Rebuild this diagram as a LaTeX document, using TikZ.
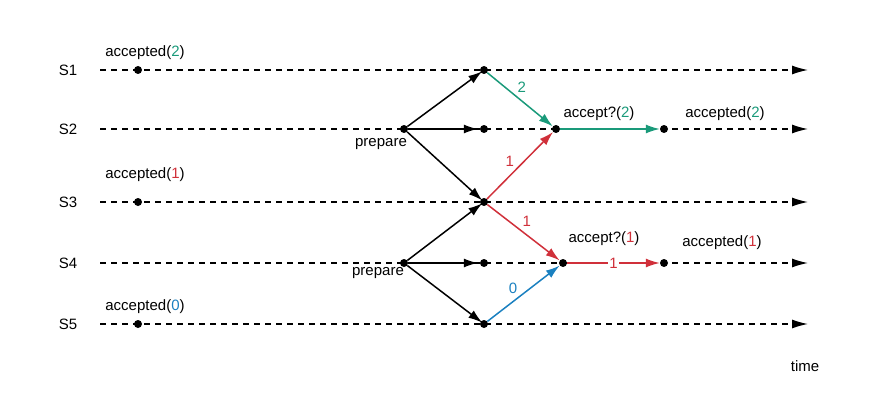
\documentclass[tikz,border=0pt]{standalone}
\usepackage{fontspec}
\setmainfont{Liberation Sans}
\usetikzlibrary{arrows.meta}
\definecolor{gr}{HTML}{1A9A7A}
\definecolor{rd}{HTML}{D0303A}
\definecolor{bl}{HTML}{1A80C0}
\begin{document}
\begin{tikzpicture}[x=1pt,y=-1pt,
  dot/.style={circle,fill=black,inner sep=0pt,minimum size=8pt},
  tl/.style={dashed,dash pattern=on 6pt off 5pt,line width=1.3pt,-{Latex[length=16pt,width=9pt]}},
  ar/.style={line width=1.5pt,-{Latex[length=14pt,width=9pt]}},
  lb/.style={font=\fontsize{15}{17}\selectfont,inner sep=1pt}]
\useasboundingbox (0,0) rectangle (881,412);
\foreach \n/\y in {1/70,2/129,3/202,4/263,5/324}{
  \node[lb] (s\n) at (68,\y) {S\n};
  \coordinate (a\n) at (100,\y);
  \coordinate (b\n) at (808,\y);
  \draw[tl] (a\n) -- (b\n);
}
\node[dot] (o1) at (138,70) {};
\node[dot] (o3) at (138,202) {};
\node[dot] (o5) at (138,324) {};
\node[lb] at (145,53) {accepted(\textcolor{gr}{2})};
\node[lb] at (145,175) {accepted(\textcolor{rd}{1})};
\node[lb] at (145,307) {accepted(\textcolor{bl}{0})};
\node[dot] (p2) at (404,129) {};
\node[dot] (p4) at (404,263) {};
\node[lb] at (381,144) {prepare};
\node[lb] at (378,273) {prepare};
\foreach \n/\y in {1/70,2/129,3/202,4/263,5/324}{\node[dot] (d\n) at (484,\y) {};}
\draw[ar,shorten >=-2pt] (p2) -- (d1);
\draw[ar,shorten >=2pt] (p2) -- (d2);
\draw[ar,shorten >=-2pt] (p2) -- (d3);
\draw[ar,shorten >=-2pt] (p4) -- (d3);
\draw[ar,shorten >=2pt] (p4) -- (d4);
\draw[ar,shorten >=-2pt] (p4) -- (d5);
\node[dot] (c2) at (556,129) {};
\node[dot] (e2) at (664,129) {};
\node[dot] (c4) at (563,263) {};
\node[dot] (e4) at (664,263) {};
\draw[ar,gr] (d1) -- node[lb,pos=0.42,above right,inner sep=2pt] {2} (c2);
\draw[ar,gr] (c2) -- (e2);
\draw[ar,rd] (d3) -- node[lb,pos=0.45,above left,inner sep=2pt] {1} (c2);
\draw[ar,rd] (d3) -- node[lb,pos=0.45,above right,inner sep=2pt] {1} (c4);
\draw[ar,rd] (c4) -- node[lb,midway,fill=white,inner sep=1pt] {1} (e4);
\draw[ar,bl] (d5) -- node[lb,pos=0.45,above left,inner sep=2pt] {0} (c4);
\node[lb] at (599,114) {accept?(\textcolor{gr}{2})};
\node[lb] at (725,114) {accepted(\textcolor{gr}{2})};
\node[lb] at (604,239) {accept?(\textcolor{rd}{1})};
\node[lb] at (722,243) {accepted(\textcolor{rd}{1})};
\node[lb] at (805,366) {time};
\end{tikzpicture}
\end{document}
